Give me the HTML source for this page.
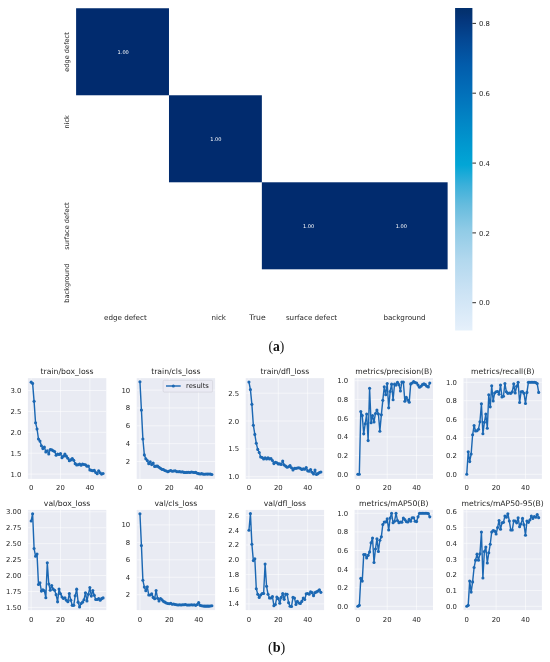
<!DOCTYPE html>
<html lang="en"><head><meta charset="utf-8"><title>Figure</title>
<style>html,body{margin:0;padding:0;background:#fff}body{width:550px;height:662px;overflow:hidden}svg{display:block}text{font-family:"DejaVu Sans","Liberation Sans",sans-serif;fill:#262626}.cap{font-family:"Liberation Serif","DejaVu Serif",serif;fill:#111}</style></head><body>
<svg width="550" height="662" viewBox="0 0 550 662">
<defs><linearGradient id="cb" x1="0" y1="0" x2="0" y2="1">
<stop offset="0.0000" stop-color="#02306e"/>
<stop offset="0.0124" stop-color="#03316f"/>
<stop offset="0.0372" stop-color="#04367c"/>
<stop offset="0.0992" stop-color="#044894"/>
<stop offset="0.1767" stop-color="#025cab"/>
<stop offset="0.2636" stop-color="#0270ba"/>
<stop offset="0.3473" stop-color="#0285c5"/>
<stop offset="0.4248" stop-color="#0198cf"/>
<stop offset="0.4868" stop-color="#02a6d6"/>
<stop offset="0.5488" stop-color="#3bb0da"/>
<stop offset="0.6109" stop-color="#66bcde"/>
<stop offset="0.6884" stop-color="#90cbe6"/>
<stop offset="0.7814" stop-color="#b2d8ee"/>
<stop offset="0.8744" stop-color="#cae2f4"/>
<stop offset="0.9829" stop-color="#e2eefa"/>
<stop offset="1.0000" stop-color="#e6f1fb"/>
</linearGradient></defs>
<rect x="0" y="0" width="550" height="662" fill="#ffffff"/>
<g>
<rect x="76.10" y="8.25" width="92.88" height="87.02" fill="#012b6e"/>
<rect x="168.98" y="95.27" width="92.88" height="87.02" fill="#012b6e"/>
<rect x="261.86" y="182.29" width="185.76" height="87.02" fill="#012b6e"/>
</g>
<text x="123.20" y="53.70" font-size="5.05" text-anchor="middle" style="fill:#ffffff">1.00</text>
<text x="215.90" y="140.90" font-size="5.05" text-anchor="middle" style="fill:#ffffff">1.00</text>
<text x="308.60" y="227.90" font-size="5.05" text-anchor="middle" style="fill:#ffffff">1.00</text>
<text x="401.40" y="227.90" font-size="5.05" text-anchor="middle" style="fill:#ffffff">1.00</text>
<text x="125.40" y="319.8" font-size="7.15" text-anchor="middle">edge defect</text>
<text x="218.70" y="319.8" font-size="7.15" text-anchor="middle">nick</text>
<text x="311.50" y="319.8" font-size="7.15" text-anchor="middle">surface defect</text>
<text x="404.50" y="319.8" font-size="7.15" text-anchor="middle">background</text>
<text x="257.5" y="319.9" font-size="7.7" text-anchor="middle">True</text>
<text transform="translate(68.6,52.00) rotate(-90)" font-size="6.62" text-anchor="middle">edge defect</text>
<text transform="translate(68.6,121.80) rotate(-90)" font-size="6.62" text-anchor="middle">nick</text>
<text transform="translate(68.6,226.00) rotate(-90)" font-size="6.62" text-anchor="middle">surface defect</text>
<text transform="translate(68.6,283.10) rotate(-90)" font-size="6.62" text-anchor="middle">background</text>
<rect x="455.1" y="8.00" width="17.3" height="322.50" fill="url(#cb)"/>
<line x1="472.4" x2="476.0" y1="23.40" y2="23.40" stroke="#222" stroke-width="0.95"/>
<text x="479.0" y="26.10" font-size="6.85">0.8</text>
<line x1="472.4" x2="476.0" y1="93.20" y2="93.20" stroke="#222" stroke-width="0.95"/>
<text x="479.0" y="95.90" font-size="6.85">0.6</text>
<line x1="472.4" x2="476.0" y1="163.10" y2="163.10" stroke="#222" stroke-width="0.95"/>
<text x="479.0" y="165.80" font-size="6.85">0.4</text>
<line x1="472.4" x2="476.0" y1="232.90" y2="232.90" stroke="#222" stroke-width="0.95"/>
<text x="479.0" y="235.60" font-size="6.85">0.2</text>
<line x1="472.4" x2="476.0" y1="302.70" y2="302.70" stroke="#222" stroke-width="0.95"/>
<text x="479.0" y="305.40" font-size="6.85">0.0</text>
<text class="cap" x="276.4" y="350.5" font-size="13.6" text-anchor="middle">(<tspan font-weight="bold">a</tspan>)</text>
<text class="cap" x="276.6" y="652.0" font-size="14.2" text-anchor="middle">(<tspan font-weight="bold">b</tspan>)</text>
<g>
<rect x="27.90" y="378.15" width="78.40" height="100.75" fill="#e9ebf3"/>
<line x1="27.90" x2="106.30" y1="474.10" y2="474.10" stroke="#fff" stroke-width="0.55"/>
<text x="21.40" y="476.60" font-size="6.90" text-anchor="end">1.0</text>
<line x1="27.90" x2="106.30" y1="453.20" y2="453.20" stroke="#fff" stroke-width="0.55"/>
<text x="21.40" y="455.70" font-size="6.90" text-anchor="end">1.5</text>
<line x1="27.90" x2="106.30" y1="432.30" y2="432.30" stroke="#fff" stroke-width="0.55"/>
<text x="21.40" y="434.80" font-size="6.90" text-anchor="end">2.0</text>
<line x1="27.90" x2="106.30" y1="411.40" y2="411.40" stroke="#fff" stroke-width="0.55"/>
<text x="21.40" y="413.90" font-size="6.90" text-anchor="end">2.5</text>
<line x1="27.90" x2="106.30" y1="390.50" y2="390.50" stroke="#fff" stroke-width="0.55"/>
<text x="21.40" y="393.00" font-size="6.90" text-anchor="end">3.0</text>
<line x1="31.15" x2="31.15" y1="378.15" y2="478.90" stroke="#fff" stroke-width="0.55"/>
<text x="31.15" y="490.20" font-size="6.90" text-anchor="middle">0</text>
<line x1="60.51" x2="60.51" y1="378.15" y2="478.90" stroke="#fff" stroke-width="0.55"/>
<text x="60.51" y="490.20" font-size="6.90" text-anchor="middle">20</text>
<line x1="89.87" x2="89.87" y1="378.15" y2="478.90" stroke="#fff" stroke-width="0.55"/>
<text x="89.87" y="490.20" font-size="6.90" text-anchor="middle">40</text>
<text x="67.10" y="373.80" font-size="7.68" text-anchor="middle">train/box_loss</text>
<polyline points="31.15,382.14 32.62,383.39 34.09,401.37 35.55,422.69 37.02,428.96 38.49,438.99 39.96,441.08 41.43,445.68 42.89,448.60 44.36,446.93 45.83,451.95 47.30,450.69 48.77,454.04 50.23,449.44 51.70,449.86 53.17,450.69 54.64,451.53 56.11,455.29 57.57,454.04 59.04,454.45 60.51,453.62 61.98,457.80 63.45,456.13 64.91,454.04 66.38,456.13 67.85,458.22 69.32,460.72 70.79,459.89 72.25,458.43 73.72,460.31 75.19,463.65 76.66,464.90 78.13,464.70 79.59,464.07 81.06,465.32 82.53,464.07 84.00,464.49 85.47,464.70 86.93,466.16 88.40,465.95 89.87,469.92 91.34,470.34 92.81,470.76 94.27,470.34 95.74,472.43 97.21,473.68 98.68,470.76 100.15,472.85 101.61,474.10 103.08,473.47" fill="none" stroke="#1c68b3" stroke-width="1.42" stroke-linejoin="round" stroke-linecap="round"/>
<circle cx="31.15" cy="382.14" r="1.55" fill="#1c68b3"/>
<circle cx="32.62" cy="383.39" r="1.55" fill="#1c68b3"/>
<circle cx="34.09" cy="401.37" r="1.55" fill="#1c68b3"/>
<circle cx="35.55" cy="422.69" r="1.55" fill="#1c68b3"/>
<circle cx="37.02" cy="428.96" r="1.55" fill="#1c68b3"/>
<circle cx="38.49" cy="438.99" r="1.55" fill="#1c68b3"/>
<circle cx="39.96" cy="441.08" r="1.55" fill="#1c68b3"/>
<circle cx="41.43" cy="445.68" r="1.55" fill="#1c68b3"/>
<circle cx="42.89" cy="448.60" r="1.55" fill="#1c68b3"/>
<circle cx="44.36" cy="446.93" r="1.55" fill="#1c68b3"/>
<circle cx="45.83" cy="451.95" r="1.55" fill="#1c68b3"/>
<circle cx="47.30" cy="450.69" r="1.55" fill="#1c68b3"/>
<circle cx="48.77" cy="454.04" r="1.55" fill="#1c68b3"/>
<circle cx="50.23" cy="449.44" r="1.55" fill="#1c68b3"/>
<circle cx="51.70" cy="449.86" r="1.55" fill="#1c68b3"/>
<circle cx="53.17" cy="450.69" r="1.55" fill="#1c68b3"/>
<circle cx="54.64" cy="451.53" r="1.55" fill="#1c68b3"/>
<circle cx="56.11" cy="455.29" r="1.55" fill="#1c68b3"/>
<circle cx="57.57" cy="454.04" r="1.55" fill="#1c68b3"/>
<circle cx="59.04" cy="454.45" r="1.55" fill="#1c68b3"/>
<circle cx="60.51" cy="453.62" r="1.55" fill="#1c68b3"/>
<circle cx="61.98" cy="457.80" r="1.55" fill="#1c68b3"/>
<circle cx="63.45" cy="456.13" r="1.55" fill="#1c68b3"/>
<circle cx="64.91" cy="454.04" r="1.55" fill="#1c68b3"/>
<circle cx="66.38" cy="456.13" r="1.55" fill="#1c68b3"/>
<circle cx="67.85" cy="458.22" r="1.55" fill="#1c68b3"/>
<circle cx="69.32" cy="460.72" r="1.55" fill="#1c68b3"/>
<circle cx="70.79" cy="459.89" r="1.55" fill="#1c68b3"/>
<circle cx="72.25" cy="458.43" r="1.55" fill="#1c68b3"/>
<circle cx="73.72" cy="460.31" r="1.55" fill="#1c68b3"/>
<circle cx="75.19" cy="463.65" r="1.55" fill="#1c68b3"/>
<circle cx="76.66" cy="464.90" r="1.55" fill="#1c68b3"/>
<circle cx="78.13" cy="464.70" r="1.55" fill="#1c68b3"/>
<circle cx="79.59" cy="464.07" r="1.55" fill="#1c68b3"/>
<circle cx="81.06" cy="465.32" r="1.55" fill="#1c68b3"/>
<circle cx="82.53" cy="464.07" r="1.55" fill="#1c68b3"/>
<circle cx="84.00" cy="464.49" r="1.55" fill="#1c68b3"/>
<circle cx="85.47" cy="464.70" r="1.55" fill="#1c68b3"/>
<circle cx="86.93" cy="466.16" r="1.55" fill="#1c68b3"/>
<circle cx="88.40" cy="465.95" r="1.55" fill="#1c68b3"/>
<circle cx="89.87" cy="469.92" r="1.55" fill="#1c68b3"/>
<circle cx="91.34" cy="470.34" r="1.55" fill="#1c68b3"/>
<circle cx="92.81" cy="470.76" r="1.55" fill="#1c68b3"/>
<circle cx="94.27" cy="470.34" r="1.55" fill="#1c68b3"/>
<circle cx="95.74" cy="472.43" r="1.55" fill="#1c68b3"/>
<circle cx="97.21" cy="473.68" r="1.55" fill="#1c68b3"/>
<circle cx="98.68" cy="470.76" r="1.55" fill="#1c68b3"/>
<circle cx="100.15" cy="472.85" r="1.55" fill="#1c68b3"/>
<circle cx="101.61" cy="474.10" r="1.55" fill="#1c68b3"/>
<circle cx="103.08" cy="473.47" r="1.55" fill="#1c68b3"/>
</g>
<g>
<rect x="136.70" y="378.15" width="78.40" height="100.75" fill="#e9ebf3"/>
<line x1="136.70" x2="215.10" y1="461.50" y2="461.50" stroke="#fff" stroke-width="0.55"/>
<text x="130.20" y="464.00" font-size="6.90" text-anchor="end">2</text>
<line x1="136.70" x2="215.10" y1="443.65" y2="443.65" stroke="#fff" stroke-width="0.55"/>
<text x="130.20" y="446.15" font-size="6.90" text-anchor="end">4</text>
<line x1="136.70" x2="215.10" y1="425.80" y2="425.80" stroke="#fff" stroke-width="0.55"/>
<text x="130.20" y="428.30" font-size="6.90" text-anchor="end">6</text>
<line x1="136.70" x2="215.10" y1="407.95" y2="407.95" stroke="#fff" stroke-width="0.55"/>
<text x="130.20" y="410.45" font-size="6.90" text-anchor="end">8</text>
<line x1="136.70" x2="215.10" y1="390.10" y2="390.10" stroke="#fff" stroke-width="0.55"/>
<text x="130.20" y="392.60" font-size="6.90" text-anchor="end">10</text>
<line x1="139.95" x2="139.95" y1="378.15" y2="478.90" stroke="#fff" stroke-width="0.55"/>
<text x="139.95" y="490.20" font-size="6.90" text-anchor="middle">0</text>
<line x1="169.31" x2="169.31" y1="378.15" y2="478.90" stroke="#fff" stroke-width="0.55"/>
<text x="169.31" y="490.20" font-size="6.90" text-anchor="middle">20</text>
<line x1="198.67" x2="198.67" y1="378.15" y2="478.90" stroke="#fff" stroke-width="0.55"/>
<text x="198.67" y="490.20" font-size="6.90" text-anchor="middle">40</text>
<text x="175.90" y="373.80" font-size="7.68" text-anchor="middle">train/cls_loss</text>
<polyline points="139.95,381.80 141.42,410.09 142.89,439.01 144.35,454.90 145.82,458.82 147.29,460.61 148.76,463.64 150.23,461.77 151.69,464.62 153.16,463.02 154.63,466.50 156.10,466.14 157.57,466.14 159.03,467.30 160.50,468.37 161.97,469.35 163.44,469.62 164.91,470.43 166.37,470.96 167.84,471.76 169.31,470.96 170.78,470.43 172.25,471.23 173.71,470.96 175.18,470.78 176.65,471.59 178.12,471.76 179.59,471.59 181.05,472.03 182.52,471.76 183.99,472.39 185.46,472.48 186.93,472.39 188.39,472.21 189.86,472.48 191.33,472.03 192.80,472.21 194.27,472.48 195.73,472.39 197.20,473.19 198.67,473.64 200.14,474.00 201.61,473.64 203.07,474.08 204.54,474.26 206.01,474.00 207.48,474.08 208.95,474.00 210.41,474.08 211.88,474.44" fill="none" stroke="#1c68b3" stroke-width="1.42" stroke-linejoin="round" stroke-linecap="round"/>
<circle cx="139.95" cy="381.80" r="1.55" fill="#1c68b3"/>
<circle cx="141.42" cy="410.09" r="1.55" fill="#1c68b3"/>
<circle cx="142.89" cy="439.01" r="1.55" fill="#1c68b3"/>
<circle cx="144.35" cy="454.90" r="1.55" fill="#1c68b3"/>
<circle cx="145.82" cy="458.82" r="1.55" fill="#1c68b3"/>
<circle cx="147.29" cy="460.61" r="1.55" fill="#1c68b3"/>
<circle cx="148.76" cy="463.64" r="1.55" fill="#1c68b3"/>
<circle cx="150.23" cy="461.77" r="1.55" fill="#1c68b3"/>
<circle cx="151.69" cy="464.62" r="1.55" fill="#1c68b3"/>
<circle cx="153.16" cy="463.02" r="1.55" fill="#1c68b3"/>
<circle cx="154.63" cy="466.50" r="1.55" fill="#1c68b3"/>
<circle cx="156.10" cy="466.14" r="1.55" fill="#1c68b3"/>
<circle cx="157.57" cy="466.14" r="1.55" fill="#1c68b3"/>
<circle cx="159.03" cy="467.30" r="1.55" fill="#1c68b3"/>
<circle cx="160.50" cy="468.37" r="1.55" fill="#1c68b3"/>
<circle cx="161.97" cy="469.35" r="1.55" fill="#1c68b3"/>
<circle cx="163.44" cy="469.62" r="1.55" fill="#1c68b3"/>
<circle cx="164.91" cy="470.43" r="1.55" fill="#1c68b3"/>
<circle cx="166.37" cy="470.96" r="1.55" fill="#1c68b3"/>
<circle cx="167.84" cy="471.76" r="1.55" fill="#1c68b3"/>
<circle cx="169.31" cy="470.96" r="1.55" fill="#1c68b3"/>
<circle cx="170.78" cy="470.43" r="1.55" fill="#1c68b3"/>
<circle cx="172.25" cy="471.23" r="1.55" fill="#1c68b3"/>
<circle cx="173.71" cy="470.96" r="1.55" fill="#1c68b3"/>
<circle cx="175.18" cy="470.78" r="1.55" fill="#1c68b3"/>
<circle cx="176.65" cy="471.59" r="1.55" fill="#1c68b3"/>
<circle cx="178.12" cy="471.76" r="1.55" fill="#1c68b3"/>
<circle cx="179.59" cy="471.59" r="1.55" fill="#1c68b3"/>
<circle cx="181.05" cy="472.03" r="1.55" fill="#1c68b3"/>
<circle cx="182.52" cy="471.76" r="1.55" fill="#1c68b3"/>
<circle cx="183.99" cy="472.39" r="1.55" fill="#1c68b3"/>
<circle cx="185.46" cy="472.48" r="1.55" fill="#1c68b3"/>
<circle cx="186.93" cy="472.39" r="1.55" fill="#1c68b3"/>
<circle cx="188.39" cy="472.21" r="1.55" fill="#1c68b3"/>
<circle cx="189.86" cy="472.48" r="1.55" fill="#1c68b3"/>
<circle cx="191.33" cy="472.03" r="1.55" fill="#1c68b3"/>
<circle cx="192.80" cy="472.21" r="1.55" fill="#1c68b3"/>
<circle cx="194.27" cy="472.48" r="1.55" fill="#1c68b3"/>
<circle cx="195.73" cy="472.39" r="1.55" fill="#1c68b3"/>
<circle cx="197.20" cy="473.19" r="1.55" fill="#1c68b3"/>
<circle cx="198.67" cy="473.64" r="1.55" fill="#1c68b3"/>
<circle cx="200.14" cy="474.00" r="1.55" fill="#1c68b3"/>
<circle cx="201.61" cy="473.64" r="1.55" fill="#1c68b3"/>
<circle cx="203.07" cy="474.08" r="1.55" fill="#1c68b3"/>
<circle cx="204.54" cy="474.26" r="1.55" fill="#1c68b3"/>
<circle cx="206.01" cy="474.00" r="1.55" fill="#1c68b3"/>
<circle cx="207.48" cy="474.08" r="1.55" fill="#1c68b3"/>
<circle cx="208.95" cy="474.00" r="1.55" fill="#1c68b3"/>
<circle cx="210.41" cy="474.08" r="1.55" fill="#1c68b3"/>
<circle cx="211.88" cy="474.44" r="1.55" fill="#1c68b3"/>
<rect x="163.1" y="380.3" width="49.5" height="11.8" rx="1.3" fill="#eaeaf2" fill-opacity="0.8" stroke="#cfcfd6" stroke-width="0.6"/>
<line x1="166.0" x2="180.7" y1="386.0" y2="386.0" stroke="#1c68b3" stroke-width="1.42"/>
<circle cx="173.35" cy="386.0" r="1.55" fill="#1c68b3"/>
<text x="186.0" y="388.4" font-size="6.85">results</text>
</g>
<g>
<rect x="245.70" y="378.15" width="78.40" height="100.75" fill="#e9ebf3"/>
<line x1="245.70" x2="324.10" y1="476.70" y2="476.70" stroke="#fff" stroke-width="0.55"/>
<text x="239.20" y="479.20" font-size="6.90" text-anchor="end">1.0</text>
<line x1="245.70" x2="324.10" y1="448.87" y2="448.87" stroke="#fff" stroke-width="0.55"/>
<text x="239.20" y="451.37" font-size="6.90" text-anchor="end">1.5</text>
<line x1="245.70" x2="324.10" y1="421.03" y2="421.03" stroke="#fff" stroke-width="0.55"/>
<text x="239.20" y="423.53" font-size="6.90" text-anchor="end">2.0</text>
<line x1="245.70" x2="324.10" y1="393.20" y2="393.20" stroke="#fff" stroke-width="0.55"/>
<text x="239.20" y="395.70" font-size="6.90" text-anchor="end">2.5</text>
<line x1="248.95" x2="248.95" y1="378.15" y2="478.90" stroke="#fff" stroke-width="0.55"/>
<text x="248.95" y="490.20" font-size="6.90" text-anchor="middle">0</text>
<line x1="278.31" x2="278.31" y1="378.15" y2="478.90" stroke="#fff" stroke-width="0.55"/>
<text x="278.31" y="490.20" font-size="6.90" text-anchor="middle">20</text>
<line x1="307.67" x2="307.67" y1="378.15" y2="478.90" stroke="#fff" stroke-width="0.55"/>
<text x="307.67" y="490.20" font-size="6.90" text-anchor="middle">40</text>
<text x="284.90" y="373.80" font-size="7.68" text-anchor="middle">train/dfl_loss</text>
<polyline points="248.95,382.07 250.42,389.58 251.89,404.33 253.35,425.21 254.82,434.39 256.29,443.30 257.76,449.42 259.23,452.49 260.69,456.94 262.16,457.50 263.63,458.89 265.10,457.77 266.57,458.89 268.03,457.77 269.50,458.89 270.97,458.61 272.44,460.56 273.91,463.62 275.37,462.23 276.84,462.78 278.31,463.90 279.78,463.90 281.25,464.45 282.71,461.11 284.18,465.01 285.65,466.12 287.12,467.24 288.59,466.68 290.05,465.57 291.52,467.79 292.99,470.02 294.46,468.35 295.93,468.35 297.39,468.07 298.86,467.79 300.33,468.35 301.80,469.46 303.27,468.91 304.73,469.19 306.20,467.51 307.67,470.86 309.14,471.13 310.61,469.46 312.07,472.25 313.54,473.92 315.01,470.02 316.48,474.47 317.95,473.64 319.41,472.52 320.88,471.97" fill="none" stroke="#1c68b3" stroke-width="1.42" stroke-linejoin="round" stroke-linecap="round"/>
<circle cx="248.95" cy="382.07" r="1.55" fill="#1c68b3"/>
<circle cx="250.42" cy="389.58" r="1.55" fill="#1c68b3"/>
<circle cx="251.89" cy="404.33" r="1.55" fill="#1c68b3"/>
<circle cx="253.35" cy="425.21" r="1.55" fill="#1c68b3"/>
<circle cx="254.82" cy="434.39" r="1.55" fill="#1c68b3"/>
<circle cx="256.29" cy="443.30" r="1.55" fill="#1c68b3"/>
<circle cx="257.76" cy="449.42" r="1.55" fill="#1c68b3"/>
<circle cx="259.23" cy="452.49" r="1.55" fill="#1c68b3"/>
<circle cx="260.69" cy="456.94" r="1.55" fill="#1c68b3"/>
<circle cx="262.16" cy="457.50" r="1.55" fill="#1c68b3"/>
<circle cx="263.63" cy="458.89" r="1.55" fill="#1c68b3"/>
<circle cx="265.10" cy="457.77" r="1.55" fill="#1c68b3"/>
<circle cx="266.57" cy="458.89" r="1.55" fill="#1c68b3"/>
<circle cx="268.03" cy="457.77" r="1.55" fill="#1c68b3"/>
<circle cx="269.50" cy="458.89" r="1.55" fill="#1c68b3"/>
<circle cx="270.97" cy="458.61" r="1.55" fill="#1c68b3"/>
<circle cx="272.44" cy="460.56" r="1.55" fill="#1c68b3"/>
<circle cx="273.91" cy="463.62" r="1.55" fill="#1c68b3"/>
<circle cx="275.37" cy="462.23" r="1.55" fill="#1c68b3"/>
<circle cx="276.84" cy="462.78" r="1.55" fill="#1c68b3"/>
<circle cx="278.31" cy="463.90" r="1.55" fill="#1c68b3"/>
<circle cx="279.78" cy="463.90" r="1.55" fill="#1c68b3"/>
<circle cx="281.25" cy="464.45" r="1.55" fill="#1c68b3"/>
<circle cx="282.71" cy="461.11" r="1.55" fill="#1c68b3"/>
<circle cx="284.18" cy="465.01" r="1.55" fill="#1c68b3"/>
<circle cx="285.65" cy="466.12" r="1.55" fill="#1c68b3"/>
<circle cx="287.12" cy="467.24" r="1.55" fill="#1c68b3"/>
<circle cx="288.59" cy="466.68" r="1.55" fill="#1c68b3"/>
<circle cx="290.05" cy="465.57" r="1.55" fill="#1c68b3"/>
<circle cx="291.52" cy="467.79" r="1.55" fill="#1c68b3"/>
<circle cx="292.99" cy="470.02" r="1.55" fill="#1c68b3"/>
<circle cx="294.46" cy="468.35" r="1.55" fill="#1c68b3"/>
<circle cx="295.93" cy="468.35" r="1.55" fill="#1c68b3"/>
<circle cx="297.39" cy="468.07" r="1.55" fill="#1c68b3"/>
<circle cx="298.86" cy="467.79" r="1.55" fill="#1c68b3"/>
<circle cx="300.33" cy="468.35" r="1.55" fill="#1c68b3"/>
<circle cx="301.80" cy="469.46" r="1.55" fill="#1c68b3"/>
<circle cx="303.27" cy="468.91" r="1.55" fill="#1c68b3"/>
<circle cx="304.73" cy="469.19" r="1.55" fill="#1c68b3"/>
<circle cx="306.20" cy="467.51" r="1.55" fill="#1c68b3"/>
<circle cx="307.67" cy="470.86" r="1.55" fill="#1c68b3"/>
<circle cx="309.14" cy="471.13" r="1.55" fill="#1c68b3"/>
<circle cx="310.61" cy="469.46" r="1.55" fill="#1c68b3"/>
<circle cx="312.07" cy="472.25" r="1.55" fill="#1c68b3"/>
<circle cx="313.54" cy="473.92" r="1.55" fill="#1c68b3"/>
<circle cx="315.01" cy="470.02" r="1.55" fill="#1c68b3"/>
<circle cx="316.48" cy="474.47" r="1.55" fill="#1c68b3"/>
<circle cx="317.95" cy="473.64" r="1.55" fill="#1c68b3"/>
<circle cx="319.41" cy="472.52" r="1.55" fill="#1c68b3"/>
<circle cx="320.88" cy="471.97" r="1.55" fill="#1c68b3"/>
</g>
<g>
<rect x="354.60" y="378.15" width="78.40" height="100.75" fill="#e9ebf3"/>
<line x1="354.60" x2="433.00" y1="474.30" y2="474.30" stroke="#fff" stroke-width="0.55"/>
<text x="348.10" y="476.80" font-size="6.90" text-anchor="end">0.0</text>
<line x1="354.60" x2="433.00" y1="455.58" y2="455.58" stroke="#fff" stroke-width="0.55"/>
<text x="348.10" y="458.08" font-size="6.90" text-anchor="end">0.2</text>
<line x1="354.60" x2="433.00" y1="436.86" y2="436.86" stroke="#fff" stroke-width="0.55"/>
<text x="348.10" y="439.36" font-size="6.90" text-anchor="end">0.4</text>
<line x1="354.60" x2="433.00" y1="418.14" y2="418.14" stroke="#fff" stroke-width="0.55"/>
<text x="348.10" y="420.64" font-size="6.90" text-anchor="end">0.6</text>
<line x1="354.60" x2="433.00" y1="399.42" y2="399.42" stroke="#fff" stroke-width="0.55"/>
<text x="348.10" y="401.92" font-size="6.90" text-anchor="end">0.8</text>
<line x1="354.60" x2="433.00" y1="380.70" y2="380.70" stroke="#fff" stroke-width="0.55"/>
<text x="348.10" y="383.20" font-size="6.90" text-anchor="end">1.0</text>
<line x1="357.85" x2="357.85" y1="378.15" y2="478.90" stroke="#fff" stroke-width="0.55"/>
<text x="357.85" y="490.20" font-size="6.90" text-anchor="middle">0</text>
<line x1="387.21" x2="387.21" y1="378.15" y2="478.90" stroke="#fff" stroke-width="0.55"/>
<text x="387.21" y="490.20" font-size="6.90" text-anchor="middle">20</text>
<line x1="416.57" x2="416.57" y1="378.15" y2="478.90" stroke="#fff" stroke-width="0.55"/>
<text x="416.57" y="490.20" font-size="6.90" text-anchor="middle">40</text>
<text x="393.80" y="373.80" font-size="7.68" text-anchor="middle">metrics/precision(B)</text>
<polyline points="357.85,474.30 359.32,474.30 360.79,411.59 362.25,415.61 363.72,433.86 365.19,423.76 366.66,414.02 368.13,440.60 369.59,388.19 371.06,422.82 372.53,415.61 374.00,421.88 375.47,413.46 376.93,410.09 378.40,414.02 379.87,431.24 381.34,414.86 382.81,400.36 384.27,386.78 385.74,394.74 387.21,383.51 388.68,407.84 390.15,391.46 391.61,384.16 393.08,399.70 394.55,384.16 396.02,385.10 397.49,382.29 398.95,384.63 400.42,391.00 401.89,382.01 403.36,382.01 404.83,401.29 406.29,397.36 407.76,400.08 409.23,402.13 410.70,383.88 412.17,383.04 413.63,381.64 415.10,382.57 416.57,383.04 418.04,385.10 419.51,387.25 420.97,386.32 422.44,384.63 423.91,383.88 425.38,384.63 426.85,386.32 428.31,387.06 429.78,383.04" fill="none" stroke="#1c68b3" stroke-width="1.42" stroke-linejoin="round" stroke-linecap="round"/>
<circle cx="357.85" cy="474.30" r="1.55" fill="#1c68b3"/>
<circle cx="359.32" cy="474.30" r="1.55" fill="#1c68b3"/>
<circle cx="360.79" cy="411.59" r="1.55" fill="#1c68b3"/>
<circle cx="362.25" cy="415.61" r="1.55" fill="#1c68b3"/>
<circle cx="363.72" cy="433.86" r="1.55" fill="#1c68b3"/>
<circle cx="365.19" cy="423.76" r="1.55" fill="#1c68b3"/>
<circle cx="366.66" cy="414.02" r="1.55" fill="#1c68b3"/>
<circle cx="368.13" cy="440.60" r="1.55" fill="#1c68b3"/>
<circle cx="369.59" cy="388.19" r="1.55" fill="#1c68b3"/>
<circle cx="371.06" cy="422.82" r="1.55" fill="#1c68b3"/>
<circle cx="372.53" cy="415.61" r="1.55" fill="#1c68b3"/>
<circle cx="374.00" cy="421.88" r="1.55" fill="#1c68b3"/>
<circle cx="375.47" cy="413.46" r="1.55" fill="#1c68b3"/>
<circle cx="376.93" cy="410.09" r="1.55" fill="#1c68b3"/>
<circle cx="378.40" cy="414.02" r="1.55" fill="#1c68b3"/>
<circle cx="379.87" cy="431.24" r="1.55" fill="#1c68b3"/>
<circle cx="381.34" cy="414.86" r="1.55" fill="#1c68b3"/>
<circle cx="382.81" cy="400.36" r="1.55" fill="#1c68b3"/>
<circle cx="384.27" cy="386.78" r="1.55" fill="#1c68b3"/>
<circle cx="385.74" cy="394.74" r="1.55" fill="#1c68b3"/>
<circle cx="387.21" cy="383.51" r="1.55" fill="#1c68b3"/>
<circle cx="388.68" cy="407.84" r="1.55" fill="#1c68b3"/>
<circle cx="390.15" cy="391.46" r="1.55" fill="#1c68b3"/>
<circle cx="391.61" cy="384.16" r="1.55" fill="#1c68b3"/>
<circle cx="393.08" cy="399.70" r="1.55" fill="#1c68b3"/>
<circle cx="394.55" cy="384.16" r="1.55" fill="#1c68b3"/>
<circle cx="396.02" cy="385.10" r="1.55" fill="#1c68b3"/>
<circle cx="397.49" cy="382.29" r="1.55" fill="#1c68b3"/>
<circle cx="398.95" cy="384.63" r="1.55" fill="#1c68b3"/>
<circle cx="400.42" cy="391.00" r="1.55" fill="#1c68b3"/>
<circle cx="401.89" cy="382.01" r="1.55" fill="#1c68b3"/>
<circle cx="403.36" cy="382.01" r="1.55" fill="#1c68b3"/>
<circle cx="404.83" cy="401.29" r="1.55" fill="#1c68b3"/>
<circle cx="406.29" cy="397.36" r="1.55" fill="#1c68b3"/>
<circle cx="407.76" cy="400.08" r="1.55" fill="#1c68b3"/>
<circle cx="409.23" cy="402.13" r="1.55" fill="#1c68b3"/>
<circle cx="410.70" cy="383.88" r="1.55" fill="#1c68b3"/>
<circle cx="412.17" cy="383.04" r="1.55" fill="#1c68b3"/>
<circle cx="413.63" cy="381.64" r="1.55" fill="#1c68b3"/>
<circle cx="415.10" cy="382.57" r="1.55" fill="#1c68b3"/>
<circle cx="416.57" cy="383.04" r="1.55" fill="#1c68b3"/>
<circle cx="418.04" cy="385.10" r="1.55" fill="#1c68b3"/>
<circle cx="419.51" cy="387.25" r="1.55" fill="#1c68b3"/>
<circle cx="420.97" cy="386.32" r="1.55" fill="#1c68b3"/>
<circle cx="422.44" cy="384.63" r="1.55" fill="#1c68b3"/>
<circle cx="423.91" cy="383.88" r="1.55" fill="#1c68b3"/>
<circle cx="425.38" cy="384.63" r="1.55" fill="#1c68b3"/>
<circle cx="426.85" cy="386.32" r="1.55" fill="#1c68b3"/>
<circle cx="428.31" cy="387.06" r="1.55" fill="#1c68b3"/>
<circle cx="429.78" cy="383.04" r="1.55" fill="#1c68b3"/>
</g>
<g>
<rect x="463.50" y="378.15" width="78.40" height="100.75" fill="#e9ebf3"/>
<line x1="463.50" x2="541.90" y1="474.30" y2="474.30" stroke="#fff" stroke-width="0.55"/>
<text x="457.00" y="476.80" font-size="6.90" text-anchor="end">0.0</text>
<line x1="463.50" x2="541.90" y1="455.90" y2="455.90" stroke="#fff" stroke-width="0.55"/>
<text x="457.00" y="458.40" font-size="6.90" text-anchor="end">0.2</text>
<line x1="463.50" x2="541.90" y1="437.50" y2="437.50" stroke="#fff" stroke-width="0.55"/>
<text x="457.00" y="440.00" font-size="6.90" text-anchor="end">0.4</text>
<line x1="463.50" x2="541.90" y1="419.10" y2="419.10" stroke="#fff" stroke-width="0.55"/>
<text x="457.00" y="421.60" font-size="6.90" text-anchor="end">0.6</text>
<line x1="463.50" x2="541.90" y1="400.70" y2="400.70" stroke="#fff" stroke-width="0.55"/>
<text x="457.00" y="403.20" font-size="6.90" text-anchor="end">0.8</text>
<line x1="463.50" x2="541.90" y1="382.30" y2="382.30" stroke="#fff" stroke-width="0.55"/>
<text x="457.00" y="384.80" font-size="6.90" text-anchor="end">1.0</text>
<line x1="466.75" x2="466.75" y1="378.15" y2="478.90" stroke="#fff" stroke-width="0.55"/>
<text x="466.75" y="490.20" font-size="6.90" text-anchor="middle">0</text>
<line x1="496.11" x2="496.11" y1="378.15" y2="478.90" stroke="#fff" stroke-width="0.55"/>
<text x="496.11" y="490.20" font-size="6.90" text-anchor="middle">20</text>
<line x1="525.47" x2="525.47" y1="378.15" y2="478.90" stroke="#fff" stroke-width="0.55"/>
<text x="525.47" y="490.20" font-size="6.90" text-anchor="middle">40</text>
<text x="502.70" y="373.80" font-size="7.68" text-anchor="middle">metrics/recall(B)</text>
<polyline points="466.75,474.30 468.22,451.76 469.69,461.60 471.15,454.06 472.62,434.74 474.09,425.54 475.56,431.06 477.03,430.69 478.49,429.22 479.96,421.68 481.43,403.74 482.90,433.82 484.37,422.32 485.83,414.04 487.30,428.30 488.77,394.72 490.24,406.86 491.71,385.80 493.17,400.88 494.64,393.06 496.11,391.78 497.58,391.50 499.05,394.26 500.51,385.06 501.98,397.02 503.45,396.28 504.92,383.59 506.39,391.78 507.85,393.34 509.32,393.06 510.79,393.34 512.26,391.78 513.73,383.86 515.19,393.06 516.66,386.26 518.13,382.30 519.60,402.54 521.07,391.78 522.53,391.50 524.00,393.34 525.47,403.46 526.94,392.42 528.41,382.30 529.87,382.30 531.34,382.30 532.81,382.30 534.28,382.30 535.75,382.58 537.21,383.59 538.68,392.42" fill="none" stroke="#1c68b3" stroke-width="1.42" stroke-linejoin="round" stroke-linecap="round"/>
<circle cx="466.75" cy="474.30" r="1.55" fill="#1c68b3"/>
<circle cx="468.22" cy="451.76" r="1.55" fill="#1c68b3"/>
<circle cx="469.69" cy="461.60" r="1.55" fill="#1c68b3"/>
<circle cx="471.15" cy="454.06" r="1.55" fill="#1c68b3"/>
<circle cx="472.62" cy="434.74" r="1.55" fill="#1c68b3"/>
<circle cx="474.09" cy="425.54" r="1.55" fill="#1c68b3"/>
<circle cx="475.56" cy="431.06" r="1.55" fill="#1c68b3"/>
<circle cx="477.03" cy="430.69" r="1.55" fill="#1c68b3"/>
<circle cx="478.49" cy="429.22" r="1.55" fill="#1c68b3"/>
<circle cx="479.96" cy="421.68" r="1.55" fill="#1c68b3"/>
<circle cx="481.43" cy="403.74" r="1.55" fill="#1c68b3"/>
<circle cx="482.90" cy="433.82" r="1.55" fill="#1c68b3"/>
<circle cx="484.37" cy="422.32" r="1.55" fill="#1c68b3"/>
<circle cx="485.83" cy="414.04" r="1.55" fill="#1c68b3"/>
<circle cx="487.30" cy="428.30" r="1.55" fill="#1c68b3"/>
<circle cx="488.77" cy="394.72" r="1.55" fill="#1c68b3"/>
<circle cx="490.24" cy="406.86" r="1.55" fill="#1c68b3"/>
<circle cx="491.71" cy="385.80" r="1.55" fill="#1c68b3"/>
<circle cx="493.17" cy="400.88" r="1.55" fill="#1c68b3"/>
<circle cx="494.64" cy="393.06" r="1.55" fill="#1c68b3"/>
<circle cx="496.11" cy="391.78" r="1.55" fill="#1c68b3"/>
<circle cx="497.58" cy="391.50" r="1.55" fill="#1c68b3"/>
<circle cx="499.05" cy="394.26" r="1.55" fill="#1c68b3"/>
<circle cx="500.51" cy="385.06" r="1.55" fill="#1c68b3"/>
<circle cx="501.98" cy="397.02" r="1.55" fill="#1c68b3"/>
<circle cx="503.45" cy="396.28" r="1.55" fill="#1c68b3"/>
<circle cx="504.92" cy="383.59" r="1.55" fill="#1c68b3"/>
<circle cx="506.39" cy="391.78" r="1.55" fill="#1c68b3"/>
<circle cx="507.85" cy="393.34" r="1.55" fill="#1c68b3"/>
<circle cx="509.32" cy="393.06" r="1.55" fill="#1c68b3"/>
<circle cx="510.79" cy="393.34" r="1.55" fill="#1c68b3"/>
<circle cx="512.26" cy="391.78" r="1.55" fill="#1c68b3"/>
<circle cx="513.73" cy="383.86" r="1.55" fill="#1c68b3"/>
<circle cx="515.19" cy="393.06" r="1.55" fill="#1c68b3"/>
<circle cx="516.66" cy="386.26" r="1.55" fill="#1c68b3"/>
<circle cx="518.13" cy="382.30" r="1.55" fill="#1c68b3"/>
<circle cx="519.60" cy="402.54" r="1.55" fill="#1c68b3"/>
<circle cx="521.07" cy="391.78" r="1.55" fill="#1c68b3"/>
<circle cx="522.53" cy="391.50" r="1.55" fill="#1c68b3"/>
<circle cx="524.00" cy="393.34" r="1.55" fill="#1c68b3"/>
<circle cx="525.47" cy="403.46" r="1.55" fill="#1c68b3"/>
<circle cx="526.94" cy="392.42" r="1.55" fill="#1c68b3"/>
<circle cx="528.41" cy="382.30" r="1.55" fill="#1c68b3"/>
<circle cx="529.87" cy="382.30" r="1.55" fill="#1c68b3"/>
<circle cx="531.34" cy="382.30" r="1.55" fill="#1c68b3"/>
<circle cx="532.81" cy="382.30" r="1.55" fill="#1c68b3"/>
<circle cx="534.28" cy="382.30" r="1.55" fill="#1c68b3"/>
<circle cx="535.75" cy="382.58" r="1.55" fill="#1c68b3"/>
<circle cx="537.21" cy="383.59" r="1.55" fill="#1c68b3"/>
<circle cx="538.68" cy="392.42" r="1.55" fill="#1c68b3"/>
</g>
<g>
<rect x="27.90" y="509.90" width="78.40" height="100.20" fill="#e9ebf3"/>
<line x1="27.90" x2="106.30" y1="607.40" y2="607.40" stroke="#fff" stroke-width="0.55"/>
<text x="21.40" y="609.90" font-size="6.90" text-anchor="end">1.50</text>
<line x1="27.90" x2="106.30" y1="591.47" y2="591.47" stroke="#fff" stroke-width="0.55"/>
<text x="21.40" y="593.97" font-size="6.90" text-anchor="end">1.75</text>
<line x1="27.90" x2="106.30" y1="575.53" y2="575.53" stroke="#fff" stroke-width="0.55"/>
<text x="21.40" y="578.03" font-size="6.90" text-anchor="end">2.00</text>
<line x1="27.90" x2="106.30" y1="559.60" y2="559.60" stroke="#fff" stroke-width="0.55"/>
<text x="21.40" y="562.10" font-size="6.90" text-anchor="end">2.25</text>
<line x1="27.90" x2="106.30" y1="543.67" y2="543.67" stroke="#fff" stroke-width="0.55"/>
<text x="21.40" y="546.17" font-size="6.90" text-anchor="end">2.50</text>
<line x1="27.90" x2="106.30" y1="527.73" y2="527.73" stroke="#fff" stroke-width="0.55"/>
<text x="21.40" y="530.23" font-size="6.90" text-anchor="end">2.75</text>
<line x1="27.90" x2="106.30" y1="511.80" y2="511.80" stroke="#fff" stroke-width="0.55"/>
<text x="21.40" y="514.30" font-size="6.90" text-anchor="end">3.00</text>
<line x1="31.15" x2="31.15" y1="509.90" y2="610.10" stroke="#fff" stroke-width="0.55"/>
<text x="31.15" y="622.20" font-size="6.90" text-anchor="middle">0</text>
<line x1="60.51" x2="60.51" y1="509.90" y2="610.10" stroke="#fff" stroke-width="0.55"/>
<text x="60.51" y="622.20" font-size="6.90" text-anchor="middle">20</text>
<line x1="89.87" x2="89.87" y1="509.90" y2="610.10" stroke="#fff" stroke-width="0.55"/>
<text x="89.87" y="622.20" font-size="6.90" text-anchor="middle">40</text>
<text x="67.10" y="505.55" font-size="7.68" text-anchor="middle">val/box_loss</text>
<polyline points="31.15,520.98 32.62,513.71 34.09,548.57 35.55,556.22 37.02,554.12 38.49,584.46 39.96,582.80 41.43,591.08 42.89,589.81 44.36,590.77 45.83,597.71 47.30,562.79 48.77,583.95 50.23,590.26 51.70,585.54 53.17,589.17 54.64,590.26 56.11,594.65 57.57,601.86 59.04,588.98 60.51,593.76 61.98,596.95 63.45,598.54 64.91,597.71 66.38,600.26 67.85,601.66 69.32,593.44 70.79,600.13 72.25,605.36 73.72,605.36 75.19,595.80 76.66,589.17 78.13,602.17 79.59,606.95 81.06,603.45 82.53,602.17 84.00,599.75 85.47,592.68 86.93,600.90 88.40,594.27 89.87,587.58 91.34,596.12 92.81,590.57 94.27,595.35 95.74,599.50 97.21,599.50 98.68,598.67 100.15,600.13 101.61,598.67 103.08,597.90" fill="none" stroke="#1c68b3" stroke-width="1.42" stroke-linejoin="round" stroke-linecap="round"/>
<circle cx="31.15" cy="520.98" r="1.55" fill="#1c68b3"/>
<circle cx="32.62" cy="513.71" r="1.55" fill="#1c68b3"/>
<circle cx="34.09" cy="548.57" r="1.55" fill="#1c68b3"/>
<circle cx="35.55" cy="556.22" r="1.55" fill="#1c68b3"/>
<circle cx="37.02" cy="554.12" r="1.55" fill="#1c68b3"/>
<circle cx="38.49" cy="584.46" r="1.55" fill="#1c68b3"/>
<circle cx="39.96" cy="582.80" r="1.55" fill="#1c68b3"/>
<circle cx="41.43" cy="591.08" r="1.55" fill="#1c68b3"/>
<circle cx="42.89" cy="589.81" r="1.55" fill="#1c68b3"/>
<circle cx="44.36" cy="590.77" r="1.55" fill="#1c68b3"/>
<circle cx="45.83" cy="597.71" r="1.55" fill="#1c68b3"/>
<circle cx="47.30" cy="562.79" r="1.55" fill="#1c68b3"/>
<circle cx="48.77" cy="583.95" r="1.55" fill="#1c68b3"/>
<circle cx="50.23" cy="590.26" r="1.55" fill="#1c68b3"/>
<circle cx="51.70" cy="585.54" r="1.55" fill="#1c68b3"/>
<circle cx="53.17" cy="589.17" r="1.55" fill="#1c68b3"/>
<circle cx="54.64" cy="590.26" r="1.55" fill="#1c68b3"/>
<circle cx="56.11" cy="594.65" r="1.55" fill="#1c68b3"/>
<circle cx="57.57" cy="601.86" r="1.55" fill="#1c68b3"/>
<circle cx="59.04" cy="588.98" r="1.55" fill="#1c68b3"/>
<circle cx="60.51" cy="593.76" r="1.55" fill="#1c68b3"/>
<circle cx="61.98" cy="596.95" r="1.55" fill="#1c68b3"/>
<circle cx="63.45" cy="598.54" r="1.55" fill="#1c68b3"/>
<circle cx="64.91" cy="597.71" r="1.55" fill="#1c68b3"/>
<circle cx="66.38" cy="600.26" r="1.55" fill="#1c68b3"/>
<circle cx="67.85" cy="601.66" r="1.55" fill="#1c68b3"/>
<circle cx="69.32" cy="593.44" r="1.55" fill="#1c68b3"/>
<circle cx="70.79" cy="600.13" r="1.55" fill="#1c68b3"/>
<circle cx="72.25" cy="605.36" r="1.55" fill="#1c68b3"/>
<circle cx="73.72" cy="605.36" r="1.55" fill="#1c68b3"/>
<circle cx="75.19" cy="595.80" r="1.55" fill="#1c68b3"/>
<circle cx="76.66" cy="589.17" r="1.55" fill="#1c68b3"/>
<circle cx="78.13" cy="602.17" r="1.55" fill="#1c68b3"/>
<circle cx="79.59" cy="606.95" r="1.55" fill="#1c68b3"/>
<circle cx="81.06" cy="603.45" r="1.55" fill="#1c68b3"/>
<circle cx="82.53" cy="602.17" r="1.55" fill="#1c68b3"/>
<circle cx="84.00" cy="599.75" r="1.55" fill="#1c68b3"/>
<circle cx="85.47" cy="592.68" r="1.55" fill="#1c68b3"/>
<circle cx="86.93" cy="600.90" r="1.55" fill="#1c68b3"/>
<circle cx="88.40" cy="594.27" r="1.55" fill="#1c68b3"/>
<circle cx="89.87" cy="587.58" r="1.55" fill="#1c68b3"/>
<circle cx="91.34" cy="596.12" r="1.55" fill="#1c68b3"/>
<circle cx="92.81" cy="590.57" r="1.55" fill="#1c68b3"/>
<circle cx="94.27" cy="595.35" r="1.55" fill="#1c68b3"/>
<circle cx="95.74" cy="599.50" r="1.55" fill="#1c68b3"/>
<circle cx="97.21" cy="599.50" r="1.55" fill="#1c68b3"/>
<circle cx="98.68" cy="598.67" r="1.55" fill="#1c68b3"/>
<circle cx="100.15" cy="600.13" r="1.55" fill="#1c68b3"/>
<circle cx="101.61" cy="598.67" r="1.55" fill="#1c68b3"/>
<circle cx="103.08" cy="597.90" r="1.55" fill="#1c68b3"/>
</g>
<g>
<rect x="136.70" y="509.90" width="78.40" height="100.20" fill="#e9ebf3"/>
<line x1="136.70" x2="215.10" y1="594.70" y2="594.70" stroke="#fff" stroke-width="0.55"/>
<text x="130.20" y="597.20" font-size="6.90" text-anchor="end">2</text>
<line x1="136.70" x2="215.10" y1="577.25" y2="577.25" stroke="#fff" stroke-width="0.55"/>
<text x="130.20" y="579.75" font-size="6.90" text-anchor="end">4</text>
<line x1="136.70" x2="215.10" y1="559.80" y2="559.80" stroke="#fff" stroke-width="0.55"/>
<text x="130.20" y="562.30" font-size="6.90" text-anchor="end">6</text>
<line x1="136.70" x2="215.10" y1="542.35" y2="542.35" stroke="#fff" stroke-width="0.55"/>
<text x="130.20" y="544.85" font-size="6.90" text-anchor="end">8</text>
<line x1="136.70" x2="215.10" y1="524.90" y2="524.90" stroke="#fff" stroke-width="0.55"/>
<text x="130.20" y="527.40" font-size="6.90" text-anchor="end">10</text>
<line x1="139.95" x2="139.95" y1="509.90" y2="610.10" stroke="#fff" stroke-width="0.55"/>
<text x="139.95" y="622.20" font-size="6.90" text-anchor="middle">0</text>
<line x1="169.31" x2="169.31" y1="509.90" y2="610.10" stroke="#fff" stroke-width="0.55"/>
<text x="169.31" y="622.20" font-size="6.90" text-anchor="middle">20</text>
<line x1="198.67" x2="198.67" y1="509.90" y2="610.10" stroke="#fff" stroke-width="0.55"/>
<text x="198.67" y="622.20" font-size="6.90" text-anchor="middle">40</text>
<text x="175.90" y="505.55" font-size="7.68" text-anchor="middle">val/cls_loss</text>
<polyline points="139.95,513.82 141.42,545.49 142.89,580.30 144.35,587.11 145.82,590.77 147.29,586.76 148.76,595.05 150.23,595.05 151.69,593.91 153.16,597.40 154.63,598.67 156.10,590.60 157.57,598.19 159.03,600.89 160.50,598.54 161.97,599.76 163.44,601.33 164.91,602.16 166.37,602.99 167.84,603.43 169.31,603.77 170.78,603.25 172.25,604.21 173.71,604.04 175.18,604.56 176.65,604.82 178.12,605.00 179.59,604.82 181.05,605.00 182.52,604.82 183.99,604.82 185.46,604.56 186.93,605.00 188.39,605.00 189.86,605.00 191.33,604.82 192.80,605.00 194.27,604.82 195.73,605.34 197.20,604.56 198.67,602.47 200.14,605.34 201.61,605.78 203.07,605.96 204.54,606.13 206.01,606.13 207.48,606.13 208.95,606.13 210.41,605.96 211.88,605.78" fill="none" stroke="#1c68b3" stroke-width="1.42" stroke-linejoin="round" stroke-linecap="round"/>
<circle cx="139.95" cy="513.82" r="1.55" fill="#1c68b3"/>
<circle cx="141.42" cy="545.49" r="1.55" fill="#1c68b3"/>
<circle cx="142.89" cy="580.30" r="1.55" fill="#1c68b3"/>
<circle cx="144.35" cy="587.11" r="1.55" fill="#1c68b3"/>
<circle cx="145.82" cy="590.77" r="1.55" fill="#1c68b3"/>
<circle cx="147.29" cy="586.76" r="1.55" fill="#1c68b3"/>
<circle cx="148.76" cy="595.05" r="1.55" fill="#1c68b3"/>
<circle cx="150.23" cy="595.05" r="1.55" fill="#1c68b3"/>
<circle cx="151.69" cy="593.91" r="1.55" fill="#1c68b3"/>
<circle cx="153.16" cy="597.40" r="1.55" fill="#1c68b3"/>
<circle cx="154.63" cy="598.67" r="1.55" fill="#1c68b3"/>
<circle cx="156.10" cy="590.60" r="1.55" fill="#1c68b3"/>
<circle cx="157.57" cy="598.19" r="1.55" fill="#1c68b3"/>
<circle cx="159.03" cy="600.89" r="1.55" fill="#1c68b3"/>
<circle cx="160.50" cy="598.54" r="1.55" fill="#1c68b3"/>
<circle cx="161.97" cy="599.76" r="1.55" fill="#1c68b3"/>
<circle cx="163.44" cy="601.33" r="1.55" fill="#1c68b3"/>
<circle cx="164.91" cy="602.16" r="1.55" fill="#1c68b3"/>
<circle cx="166.37" cy="602.99" r="1.55" fill="#1c68b3"/>
<circle cx="167.84" cy="603.43" r="1.55" fill="#1c68b3"/>
<circle cx="169.31" cy="603.77" r="1.55" fill="#1c68b3"/>
<circle cx="170.78" cy="603.25" r="1.55" fill="#1c68b3"/>
<circle cx="172.25" cy="604.21" r="1.55" fill="#1c68b3"/>
<circle cx="173.71" cy="604.04" r="1.55" fill="#1c68b3"/>
<circle cx="175.18" cy="604.56" r="1.55" fill="#1c68b3"/>
<circle cx="176.65" cy="604.82" r="1.55" fill="#1c68b3"/>
<circle cx="178.12" cy="605.00" r="1.55" fill="#1c68b3"/>
<circle cx="179.59" cy="604.82" r="1.55" fill="#1c68b3"/>
<circle cx="181.05" cy="605.00" r="1.55" fill="#1c68b3"/>
<circle cx="182.52" cy="604.82" r="1.55" fill="#1c68b3"/>
<circle cx="183.99" cy="604.82" r="1.55" fill="#1c68b3"/>
<circle cx="185.46" cy="604.56" r="1.55" fill="#1c68b3"/>
<circle cx="186.93" cy="605.00" r="1.55" fill="#1c68b3"/>
<circle cx="188.39" cy="605.00" r="1.55" fill="#1c68b3"/>
<circle cx="189.86" cy="605.00" r="1.55" fill="#1c68b3"/>
<circle cx="191.33" cy="604.82" r="1.55" fill="#1c68b3"/>
<circle cx="192.80" cy="605.00" r="1.55" fill="#1c68b3"/>
<circle cx="194.27" cy="604.82" r="1.55" fill="#1c68b3"/>
<circle cx="195.73" cy="605.34" r="1.55" fill="#1c68b3"/>
<circle cx="197.20" cy="604.56" r="1.55" fill="#1c68b3"/>
<circle cx="198.67" cy="602.47" r="1.55" fill="#1c68b3"/>
<circle cx="200.14" cy="605.34" r="1.55" fill="#1c68b3"/>
<circle cx="201.61" cy="605.78" r="1.55" fill="#1c68b3"/>
<circle cx="203.07" cy="605.96" r="1.55" fill="#1c68b3"/>
<circle cx="204.54" cy="606.13" r="1.55" fill="#1c68b3"/>
<circle cx="206.01" cy="606.13" r="1.55" fill="#1c68b3"/>
<circle cx="207.48" cy="606.13" r="1.55" fill="#1c68b3"/>
<circle cx="208.95" cy="606.13" r="1.55" fill="#1c68b3"/>
<circle cx="210.41" cy="605.96" r="1.55" fill="#1c68b3"/>
<circle cx="211.88" cy="605.78" r="1.55" fill="#1c68b3"/>
</g>
<g>
<rect x="245.70" y="509.90" width="78.40" height="100.20" fill="#e9ebf3"/>
<line x1="245.70" x2="324.10" y1="603.90" y2="603.90" stroke="#fff" stroke-width="0.55"/>
<text x="239.20" y="606.40" font-size="6.90" text-anchor="end">1.4</text>
<line x1="245.70" x2="324.10" y1="589.17" y2="589.17" stroke="#fff" stroke-width="0.55"/>
<text x="239.20" y="591.67" font-size="6.90" text-anchor="end">1.6</text>
<line x1="245.70" x2="324.10" y1="574.43" y2="574.43" stroke="#fff" stroke-width="0.55"/>
<text x="239.20" y="576.93" font-size="6.90" text-anchor="end">1.8</text>
<line x1="245.70" x2="324.10" y1="559.70" y2="559.70" stroke="#fff" stroke-width="0.55"/>
<text x="239.20" y="562.20" font-size="6.90" text-anchor="end">2.0</text>
<line x1="245.70" x2="324.10" y1="544.97" y2="544.97" stroke="#fff" stroke-width="0.55"/>
<text x="239.20" y="547.47" font-size="6.90" text-anchor="end">2.2</text>
<line x1="245.70" x2="324.10" y1="530.23" y2="530.23" stroke="#fff" stroke-width="0.55"/>
<text x="239.20" y="532.73" font-size="6.90" text-anchor="end">2.4</text>
<line x1="245.70" x2="324.10" y1="515.50" y2="515.50" stroke="#fff" stroke-width="0.55"/>
<text x="239.20" y="518.00" font-size="6.90" text-anchor="end">2.6</text>
<line x1="248.95" x2="248.95" y1="509.90" y2="610.10" stroke="#fff" stroke-width="0.55"/>
<text x="248.95" y="622.20" font-size="6.90" text-anchor="middle">0</text>
<line x1="278.31" x2="278.31" y1="509.90" y2="610.10" stroke="#fff" stroke-width="0.55"/>
<text x="278.31" y="622.20" font-size="6.90" text-anchor="middle">20</text>
<line x1="307.67" x2="307.67" y1="509.90" y2="610.10" stroke="#fff" stroke-width="0.55"/>
<text x="307.67" y="622.20" font-size="6.90" text-anchor="middle">40</text>
<text x="284.90" y="505.55" font-size="7.68" text-anchor="middle">val/dfl_loss</text>
<polyline points="248.95,530.23 250.42,513.58 251.89,544.23 253.35,560.58 254.82,558.82 256.29,588.72 257.76,594.25 259.23,597.42 260.69,595.06 262.16,593.44 263.63,593.44 265.10,564.12 266.57,586.29 268.03,594.25 269.50,597.93 270.97,597.93 272.44,596.61 273.91,605.67 275.37,604.56 276.84,597.12 278.31,598.67 279.78,603.31 281.25,597.42 282.71,593.44 284.18,599.33 285.65,593.95 287.12,594.25 288.59,602.65 290.05,606.18 291.52,606.48 292.99,597.42 294.46,597.93 295.93,604.56 297.39,601.40 298.86,603.02 300.33,603.46 301.80,601.40 303.27,597.93 304.73,599.48 306.20,593.81 307.67,593.44 309.14,594.25 310.61,591.89 312.07,592.63 313.54,595.80 315.01,592.63 316.48,591.89 317.95,591.08 319.41,589.83 320.88,592.33" fill="none" stroke="#1c68b3" stroke-width="1.42" stroke-linejoin="round" stroke-linecap="round"/>
<circle cx="248.95" cy="530.23" r="1.55" fill="#1c68b3"/>
<circle cx="250.42" cy="513.58" r="1.55" fill="#1c68b3"/>
<circle cx="251.89" cy="544.23" r="1.55" fill="#1c68b3"/>
<circle cx="253.35" cy="560.58" r="1.55" fill="#1c68b3"/>
<circle cx="254.82" cy="558.82" r="1.55" fill="#1c68b3"/>
<circle cx="256.29" cy="588.72" r="1.55" fill="#1c68b3"/>
<circle cx="257.76" cy="594.25" r="1.55" fill="#1c68b3"/>
<circle cx="259.23" cy="597.42" r="1.55" fill="#1c68b3"/>
<circle cx="260.69" cy="595.06" r="1.55" fill="#1c68b3"/>
<circle cx="262.16" cy="593.44" r="1.55" fill="#1c68b3"/>
<circle cx="263.63" cy="593.44" r="1.55" fill="#1c68b3"/>
<circle cx="265.10" cy="564.12" r="1.55" fill="#1c68b3"/>
<circle cx="266.57" cy="586.29" r="1.55" fill="#1c68b3"/>
<circle cx="268.03" cy="594.25" r="1.55" fill="#1c68b3"/>
<circle cx="269.50" cy="597.93" r="1.55" fill="#1c68b3"/>
<circle cx="270.97" cy="597.93" r="1.55" fill="#1c68b3"/>
<circle cx="272.44" cy="596.61" r="1.55" fill="#1c68b3"/>
<circle cx="273.91" cy="605.67" r="1.55" fill="#1c68b3"/>
<circle cx="275.37" cy="604.56" r="1.55" fill="#1c68b3"/>
<circle cx="276.84" cy="597.12" r="1.55" fill="#1c68b3"/>
<circle cx="278.31" cy="598.67" r="1.55" fill="#1c68b3"/>
<circle cx="279.78" cy="603.31" r="1.55" fill="#1c68b3"/>
<circle cx="281.25" cy="597.42" r="1.55" fill="#1c68b3"/>
<circle cx="282.71" cy="593.44" r="1.55" fill="#1c68b3"/>
<circle cx="284.18" cy="599.33" r="1.55" fill="#1c68b3"/>
<circle cx="285.65" cy="593.95" r="1.55" fill="#1c68b3"/>
<circle cx="287.12" cy="594.25" r="1.55" fill="#1c68b3"/>
<circle cx="288.59" cy="602.65" r="1.55" fill="#1c68b3"/>
<circle cx="290.05" cy="606.18" r="1.55" fill="#1c68b3"/>
<circle cx="291.52" cy="606.48" r="1.55" fill="#1c68b3"/>
<circle cx="292.99" cy="597.42" r="1.55" fill="#1c68b3"/>
<circle cx="294.46" cy="597.93" r="1.55" fill="#1c68b3"/>
<circle cx="295.93" cy="604.56" r="1.55" fill="#1c68b3"/>
<circle cx="297.39" cy="601.40" r="1.55" fill="#1c68b3"/>
<circle cx="298.86" cy="603.02" r="1.55" fill="#1c68b3"/>
<circle cx="300.33" cy="603.46" r="1.55" fill="#1c68b3"/>
<circle cx="301.80" cy="601.40" r="1.55" fill="#1c68b3"/>
<circle cx="303.27" cy="597.93" r="1.55" fill="#1c68b3"/>
<circle cx="304.73" cy="599.48" r="1.55" fill="#1c68b3"/>
<circle cx="306.20" cy="593.81" r="1.55" fill="#1c68b3"/>
<circle cx="307.67" cy="593.44" r="1.55" fill="#1c68b3"/>
<circle cx="309.14" cy="594.25" r="1.55" fill="#1c68b3"/>
<circle cx="310.61" cy="591.89" r="1.55" fill="#1c68b3"/>
<circle cx="312.07" cy="592.63" r="1.55" fill="#1c68b3"/>
<circle cx="313.54" cy="595.80" r="1.55" fill="#1c68b3"/>
<circle cx="315.01" cy="592.63" r="1.55" fill="#1c68b3"/>
<circle cx="316.48" cy="591.89" r="1.55" fill="#1c68b3"/>
<circle cx="317.95" cy="591.08" r="1.55" fill="#1c68b3"/>
<circle cx="319.41" cy="589.83" r="1.55" fill="#1c68b3"/>
<circle cx="320.88" cy="592.33" r="1.55" fill="#1c68b3"/>
</g>
<g>
<rect x="354.60" y="509.90" width="78.40" height="100.20" fill="#e9ebf3"/>
<line x1="354.60" x2="433.00" y1="606.30" y2="606.30" stroke="#fff" stroke-width="0.55"/>
<text x="348.10" y="608.80" font-size="6.90" text-anchor="end">0.0</text>
<line x1="354.60" x2="433.00" y1="587.70" y2="587.70" stroke="#fff" stroke-width="0.55"/>
<text x="348.10" y="590.20" font-size="6.90" text-anchor="end">0.2</text>
<line x1="354.60" x2="433.00" y1="569.10" y2="569.10" stroke="#fff" stroke-width="0.55"/>
<text x="348.10" y="571.60" font-size="6.90" text-anchor="end">0.4</text>
<line x1="354.60" x2="433.00" y1="550.50" y2="550.50" stroke="#fff" stroke-width="0.55"/>
<text x="348.10" y="553.00" font-size="6.90" text-anchor="end">0.6</text>
<line x1="354.60" x2="433.00" y1="531.90" y2="531.90" stroke="#fff" stroke-width="0.55"/>
<text x="348.10" y="534.40" font-size="6.90" text-anchor="end">0.8</text>
<line x1="354.60" x2="433.00" y1="513.30" y2="513.30" stroke="#fff" stroke-width="0.55"/>
<text x="348.10" y="515.80" font-size="6.90" text-anchor="end">1.0</text>
<line x1="357.85" x2="357.85" y1="509.90" y2="610.10" stroke="#fff" stroke-width="0.55"/>
<text x="357.85" y="622.20" font-size="6.90" text-anchor="middle">0</text>
<line x1="387.21" x2="387.21" y1="509.90" y2="610.10" stroke="#fff" stroke-width="0.55"/>
<text x="387.21" y="622.20" font-size="6.90" text-anchor="middle">20</text>
<line x1="416.57" x2="416.57" y1="509.90" y2="610.10" stroke="#fff" stroke-width="0.55"/>
<text x="416.57" y="622.20" font-size="6.90" text-anchor="middle">40</text>
<text x="393.80" y="505.55" font-size="7.68" text-anchor="middle">metrics/mAP50(B)</text>
<polyline points="357.85,606.30 359.32,605.37 360.79,578.40 362.25,581.10 363.72,554.59 365.19,554.59 366.66,558.03 368.13,555.34 369.59,551.89 371.06,542.69 372.53,537.94 374.00,562.50 375.47,549.01 376.93,538.69 378.40,551.43 379.87,540.27 381.34,536.83 382.81,524.46 384.27,522.04 385.74,522.04 387.21,518.88 388.68,530.04 390.15,518.04 391.61,513.30 393.08,522.79 394.55,521.20 396.02,513.30 397.49,520.46 398.95,522.79 400.42,522.04 401.89,522.32 403.36,518.04 404.83,519.62 406.29,521.58 407.76,522.04 409.23,519.34 410.70,521.20 412.17,517.76 413.63,517.76 415.10,521.20 416.57,521.58 418.04,516.83 419.51,513.30 420.97,513.30 422.44,513.30 423.91,513.30 425.38,513.30 426.85,513.30 428.31,513.58 429.78,516.83" fill="none" stroke="#1c68b3" stroke-width="1.42" stroke-linejoin="round" stroke-linecap="round"/>
<circle cx="357.85" cy="606.30" r="1.55" fill="#1c68b3"/>
<circle cx="359.32" cy="605.37" r="1.55" fill="#1c68b3"/>
<circle cx="360.79" cy="578.40" r="1.55" fill="#1c68b3"/>
<circle cx="362.25" cy="581.10" r="1.55" fill="#1c68b3"/>
<circle cx="363.72" cy="554.59" r="1.55" fill="#1c68b3"/>
<circle cx="365.19" cy="554.59" r="1.55" fill="#1c68b3"/>
<circle cx="366.66" cy="558.03" r="1.55" fill="#1c68b3"/>
<circle cx="368.13" cy="555.34" r="1.55" fill="#1c68b3"/>
<circle cx="369.59" cy="551.89" r="1.55" fill="#1c68b3"/>
<circle cx="371.06" cy="542.69" r="1.55" fill="#1c68b3"/>
<circle cx="372.53" cy="537.94" r="1.55" fill="#1c68b3"/>
<circle cx="374.00" cy="562.50" r="1.55" fill="#1c68b3"/>
<circle cx="375.47" cy="549.01" r="1.55" fill="#1c68b3"/>
<circle cx="376.93" cy="538.69" r="1.55" fill="#1c68b3"/>
<circle cx="378.40" cy="551.43" r="1.55" fill="#1c68b3"/>
<circle cx="379.87" cy="540.27" r="1.55" fill="#1c68b3"/>
<circle cx="381.34" cy="536.83" r="1.55" fill="#1c68b3"/>
<circle cx="382.81" cy="524.46" r="1.55" fill="#1c68b3"/>
<circle cx="384.27" cy="522.04" r="1.55" fill="#1c68b3"/>
<circle cx="385.74" cy="522.04" r="1.55" fill="#1c68b3"/>
<circle cx="387.21" cy="518.88" r="1.55" fill="#1c68b3"/>
<circle cx="388.68" cy="530.04" r="1.55" fill="#1c68b3"/>
<circle cx="390.15" cy="518.04" r="1.55" fill="#1c68b3"/>
<circle cx="391.61" cy="513.30" r="1.55" fill="#1c68b3"/>
<circle cx="393.08" cy="522.79" r="1.55" fill="#1c68b3"/>
<circle cx="394.55" cy="521.20" r="1.55" fill="#1c68b3"/>
<circle cx="396.02" cy="513.30" r="1.55" fill="#1c68b3"/>
<circle cx="397.49" cy="520.46" r="1.55" fill="#1c68b3"/>
<circle cx="398.95" cy="522.79" r="1.55" fill="#1c68b3"/>
<circle cx="400.42" cy="522.04" r="1.55" fill="#1c68b3"/>
<circle cx="401.89" cy="522.32" r="1.55" fill="#1c68b3"/>
<circle cx="403.36" cy="518.04" r="1.55" fill="#1c68b3"/>
<circle cx="404.83" cy="519.62" r="1.55" fill="#1c68b3"/>
<circle cx="406.29" cy="521.58" r="1.55" fill="#1c68b3"/>
<circle cx="407.76" cy="522.04" r="1.55" fill="#1c68b3"/>
<circle cx="409.23" cy="519.34" r="1.55" fill="#1c68b3"/>
<circle cx="410.70" cy="521.20" r="1.55" fill="#1c68b3"/>
<circle cx="412.17" cy="517.76" r="1.55" fill="#1c68b3"/>
<circle cx="413.63" cy="517.76" r="1.55" fill="#1c68b3"/>
<circle cx="415.10" cy="521.20" r="1.55" fill="#1c68b3"/>
<circle cx="416.57" cy="521.58" r="1.55" fill="#1c68b3"/>
<circle cx="418.04" cy="516.83" r="1.55" fill="#1c68b3"/>
<circle cx="419.51" cy="513.30" r="1.55" fill="#1c68b3"/>
<circle cx="420.97" cy="513.30" r="1.55" fill="#1c68b3"/>
<circle cx="422.44" cy="513.30" r="1.55" fill="#1c68b3"/>
<circle cx="423.91" cy="513.30" r="1.55" fill="#1c68b3"/>
<circle cx="425.38" cy="513.30" r="1.55" fill="#1c68b3"/>
<circle cx="426.85" cy="513.30" r="1.55" fill="#1c68b3"/>
<circle cx="428.31" cy="513.58" r="1.55" fill="#1c68b3"/>
<circle cx="429.78" cy="516.83" r="1.55" fill="#1c68b3"/>
</g>
<g>
<rect x="463.50" y="509.90" width="78.40" height="100.20" fill="#e9ebf3"/>
<line x1="463.50" x2="541.90" y1="606.30" y2="606.30" stroke="#fff" stroke-width="0.55"/>
<text x="457.00" y="608.80" font-size="6.90" text-anchor="end">0.0</text>
<line x1="463.50" x2="541.90" y1="590.55" y2="590.55" stroke="#fff" stroke-width="0.55"/>
<text x="457.00" y="593.05" font-size="6.90" text-anchor="end">0.1</text>
<line x1="463.50" x2="541.90" y1="574.80" y2="574.80" stroke="#fff" stroke-width="0.55"/>
<text x="457.00" y="577.30" font-size="6.90" text-anchor="end">0.2</text>
<line x1="463.50" x2="541.90" y1="559.05" y2="559.05" stroke="#fff" stroke-width="0.55"/>
<text x="457.00" y="561.55" font-size="6.90" text-anchor="end">0.3</text>
<line x1="463.50" x2="541.90" y1="543.30" y2="543.30" stroke="#fff" stroke-width="0.55"/>
<text x="457.00" y="545.80" font-size="6.90" text-anchor="end">0.4</text>
<line x1="463.50" x2="541.90" y1="527.55" y2="527.55" stroke="#fff" stroke-width="0.55"/>
<text x="457.00" y="530.05" font-size="6.90" text-anchor="end">0.5</text>
<line x1="463.50" x2="541.90" y1="511.80" y2="511.80" stroke="#fff" stroke-width="0.55"/>
<text x="457.00" y="514.30" font-size="6.90" text-anchor="end">0.6</text>
<line x1="466.75" x2="466.75" y1="509.90" y2="610.10" stroke="#fff" stroke-width="0.55"/>
<text x="466.75" y="622.20" font-size="6.90" text-anchor="middle">0</text>
<line x1="496.11" x2="496.11" y1="509.90" y2="610.10" stroke="#fff" stroke-width="0.55"/>
<text x="496.11" y="622.20" font-size="6.90" text-anchor="middle">20</text>
<line x1="525.47" x2="525.47" y1="509.90" y2="610.10" stroke="#fff" stroke-width="0.55"/>
<text x="525.47" y="622.20" font-size="6.90" text-anchor="middle">40</text>
<text x="502.70" y="505.55" font-size="7.68" text-anchor="middle">metrics/mAP50-95(B)</text>
<polyline points="466.75,606.30 468.22,605.36 469.69,581.10 471.15,592.12 472.62,581.89 474.09,567.55 475.56,560.15 477.03,554.17 478.49,560.15 479.96,553.85 481.43,531.96 482.90,577.95 484.37,551.49 485.83,547.08 487.30,562.99 488.77,552.75 490.24,544.25 491.71,531.96 493.17,530.54 494.64,531.17 496.11,534.01 497.58,527.55 499.05,520.46 500.51,529.28 501.98,522.83 503.45,522.35 504.92,516.05 506.39,517.31 507.85,513.69 509.32,520.93 510.79,530.07 512.26,530.07 513.73,520.78 515.19,520.93 516.66,522.83 518.13,517.78 519.60,526.76 521.07,523.93 522.53,518.41 524.00,524.72 525.47,535.27 526.94,520.93 528.41,522.35 529.87,519.99 531.34,516.05 532.81,518.41 534.28,516.52 535.75,517.31 537.21,514.48 538.68,517.63" fill="none" stroke="#1c68b3" stroke-width="1.42" stroke-linejoin="round" stroke-linecap="round"/>
<circle cx="466.75" cy="606.30" r="1.55" fill="#1c68b3"/>
<circle cx="468.22" cy="605.36" r="1.55" fill="#1c68b3"/>
<circle cx="469.69" cy="581.10" r="1.55" fill="#1c68b3"/>
<circle cx="471.15" cy="592.12" r="1.55" fill="#1c68b3"/>
<circle cx="472.62" cy="581.89" r="1.55" fill="#1c68b3"/>
<circle cx="474.09" cy="567.55" r="1.55" fill="#1c68b3"/>
<circle cx="475.56" cy="560.15" r="1.55" fill="#1c68b3"/>
<circle cx="477.03" cy="554.17" r="1.55" fill="#1c68b3"/>
<circle cx="478.49" cy="560.15" r="1.55" fill="#1c68b3"/>
<circle cx="479.96" cy="553.85" r="1.55" fill="#1c68b3"/>
<circle cx="481.43" cy="531.96" r="1.55" fill="#1c68b3"/>
<circle cx="482.90" cy="577.95" r="1.55" fill="#1c68b3"/>
<circle cx="484.37" cy="551.49" r="1.55" fill="#1c68b3"/>
<circle cx="485.83" cy="547.08" r="1.55" fill="#1c68b3"/>
<circle cx="487.30" cy="562.99" r="1.55" fill="#1c68b3"/>
<circle cx="488.77" cy="552.75" r="1.55" fill="#1c68b3"/>
<circle cx="490.24" cy="544.25" r="1.55" fill="#1c68b3"/>
<circle cx="491.71" cy="531.96" r="1.55" fill="#1c68b3"/>
<circle cx="493.17" cy="530.54" r="1.55" fill="#1c68b3"/>
<circle cx="494.64" cy="531.17" r="1.55" fill="#1c68b3"/>
<circle cx="496.11" cy="534.01" r="1.55" fill="#1c68b3"/>
<circle cx="497.58" cy="527.55" r="1.55" fill="#1c68b3"/>
<circle cx="499.05" cy="520.46" r="1.55" fill="#1c68b3"/>
<circle cx="500.51" cy="529.28" r="1.55" fill="#1c68b3"/>
<circle cx="501.98" cy="522.83" r="1.55" fill="#1c68b3"/>
<circle cx="503.45" cy="522.35" r="1.55" fill="#1c68b3"/>
<circle cx="504.92" cy="516.05" r="1.55" fill="#1c68b3"/>
<circle cx="506.39" cy="517.31" r="1.55" fill="#1c68b3"/>
<circle cx="507.85" cy="513.69" r="1.55" fill="#1c68b3"/>
<circle cx="509.32" cy="520.93" r="1.55" fill="#1c68b3"/>
<circle cx="510.79" cy="530.07" r="1.55" fill="#1c68b3"/>
<circle cx="512.26" cy="530.07" r="1.55" fill="#1c68b3"/>
<circle cx="513.73" cy="520.78" r="1.55" fill="#1c68b3"/>
<circle cx="515.19" cy="520.93" r="1.55" fill="#1c68b3"/>
<circle cx="516.66" cy="522.83" r="1.55" fill="#1c68b3"/>
<circle cx="518.13" cy="517.78" r="1.55" fill="#1c68b3"/>
<circle cx="519.60" cy="526.76" r="1.55" fill="#1c68b3"/>
<circle cx="521.07" cy="523.93" r="1.55" fill="#1c68b3"/>
<circle cx="522.53" cy="518.41" r="1.55" fill="#1c68b3"/>
<circle cx="524.00" cy="524.72" r="1.55" fill="#1c68b3"/>
<circle cx="525.47" cy="535.27" r="1.55" fill="#1c68b3"/>
<circle cx="526.94" cy="520.93" r="1.55" fill="#1c68b3"/>
<circle cx="528.41" cy="522.35" r="1.55" fill="#1c68b3"/>
<circle cx="529.87" cy="519.99" r="1.55" fill="#1c68b3"/>
<circle cx="531.34" cy="516.05" r="1.55" fill="#1c68b3"/>
<circle cx="532.81" cy="518.41" r="1.55" fill="#1c68b3"/>
<circle cx="534.28" cy="516.52" r="1.55" fill="#1c68b3"/>
<circle cx="535.75" cy="517.31" r="1.55" fill="#1c68b3"/>
<circle cx="537.21" cy="514.48" r="1.55" fill="#1c68b3"/>
<circle cx="538.68" cy="517.63" r="1.55" fill="#1c68b3"/>
</g>
</svg></body></html>
